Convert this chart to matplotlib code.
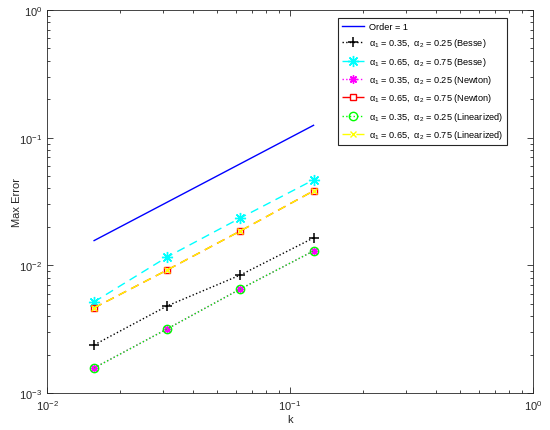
import matplotlib
matplotlib.use("Agg")
import matplotlib.pyplot as plt
import numpy as np

plt.rcParams['font.family'] = ['Liberation Sans', 'DejaVu Sans']
plt.rcParams['mathtext.fontset'] = 'custom'
plt.rcParams['mathtext.rm'] = 'Liberation Sans'
plt.rcParams['mathtext.it'] = 'Liberation Sans'

k = [1/64, 1/32, 1/16, 1/8]
order1 = [1/64, 1/32, 1/16, 1/8]
besse_035 = [0.00238, 0.00481, 0.0084, 0.0164]
besse_065 = [0.00517, 0.01164, 0.0235, 0.0467]
newton_035 = [0.00157, 0.00318, 0.00653, 0.01297]
newton_065 = [0.00464, 0.0092, 0.0186, 0.0383]
lin_035 = [0.00157, 0.00318, 0.00653, 0.01297]
lin_065 = [0.00464, 0.0092, 0.0186, 0.0383]

labels = [
    'Order = 1',
    r'$\alpha_1$ = 0.35,  $\alpha_2$ = 0.25 (Besse)',
    r'$\alpha_1$ = 0.65,  $\alpha_2$ = 0.75 (Besse)',
    r'$\alpha_1$ = 0.35,  $\alpha_2$ = 0.25 (Newton)',
    r'$\alpha_1$ = 0.65,  $\alpha_2$ = 0.75 (Newton)',
    r'$\alpha_1$ = 0.35,  $\alpha_2$ = 0.25 (Linearized)',
    r'$\alpha_1$ = 0.65,  $\alpha_2$ = 0.75 (Linearized)',
]

ast = (8, 2, 0)
fig = plt.figure(figsize=(5.5, 4.31), dpi=100)
ax = fig.add_axes([47/550, 1-394/431, (533-47)/550, (394-11)/431])

ax.loglog(k, order1, '-', color=(0, 0, 1), lw=1.0, label=labels[0])
ax.loglog(k, besse_035, ':', color='k', marker='+', ms=7, mew=1.1, lw=1.0, label=labels[1])
ax.loglog(k, besse_065, '--', color=(0, 1, 1), marker=ast, ms=8, mew=1.0, lw=1.0, dashes=(6, 4), label=labels[2])
ax.loglog(k, newton_035, ':', color=(1, 0, 1), marker=ast, ms=6, mew=1.0, lw=1.0, label=labels[3])
ax.loglog(k, newton_065, '--', color=(1, 0, 0), marker='s', ms=5, mfc='none', mew=1.0, lw=1.0, dashes=(6, 4), label=labels[4])
ax.loglog(k, lin_035, ':', color=(0, 1, 0), marker='o', ms=6, mfc='none', mew=1.0, lw=1.0, label=labels[5])
ax.loglog(k, lin_065, '--', color=(1, 1, 0), marker='x', ms=5, mew=1.0, lw=1.0, dashes=(6, 4), label=labels[6])

ax.set_xlim(1e-2, 1)
ax.set_ylim(1e-3, 1)
ax.set_xlabel('k', fontsize=8, color='0.15', labelpad=2)
ax.set_ylabel('Max Error', fontsize=8, color='0.15', labelpad=-2)

for s in ax.spines.values():
    s.set_color('0.15')
    s.set_linewidth(0.6)
ax.tick_params(which='both', direction='in', top=True, right=True, colors='0.15', labelsize=8, width=0.6)
ax.tick_params(which='major', length=4)
ax.tick_params(which='minor', length=2)

leg = ax.legend(loc='upper left', bbox_to_anchor=((338-47)/486, 1-(19-11)/383), fontsize=6.6, frameon=True, fancybox=False,
                edgecolor='0.15', framealpha=1, handlelength=2.4, labelspacing=0.58, borderpad=0.45,
                handletextpad=0.5, borderaxespad=0.0)
leg.get_frame().set_linewidth(0.8)

fig.savefig('out.png', dpi=100)
